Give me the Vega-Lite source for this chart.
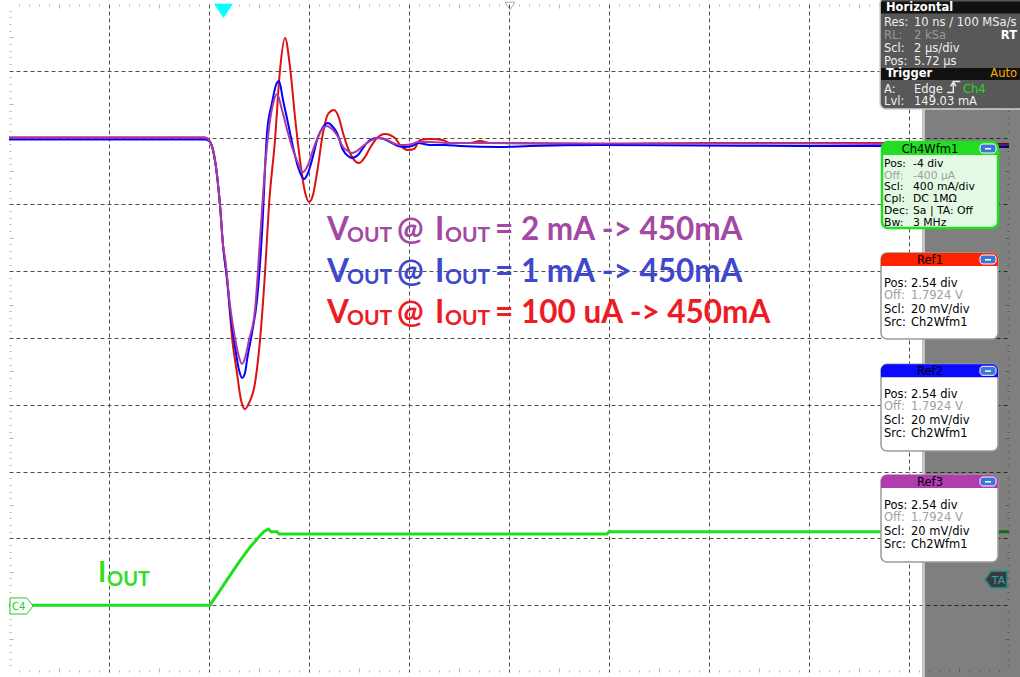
{
  "$schema": "https://vega.github.io/schema/vega-lite/v6.json",
  "width": 1000,
  "height": 668,
  "autosize": {"type": "none"},
  "padding": {"left": 9, "top": 4, "right": 11, "bottom": 5},
  "background": "white",
  "config": {
    "view": {"stroke": null},
    "axis": {"labels": false, "ticks": false, "domain": false, "grid": false},
    "style": {
      "big": {"font": "Lato", "fontWeight": "bold", "fontSize": 31.5, "align": "left", "baseline": "alphabetic"},
      "small": {"font": "Lato", "fontWeight": "bold", "fontSize": 21, "align": "left", "baseline": "alphabetic"},
      "info": {"font": "DejaVu Sans", "fontSize": 11.5, "align": "left", "baseline": "middle"},
      "tight": {"font": "DejaVu Sans", "fontSize": 10.8, "align": "left", "baseline": "middle"},
      "infohead": {"font": "DejaVu Sans", "fontSize": 11.5, "fontWeight": "bold", "align": "left", "baseline": "middle"}
    }
  },
  "datasets": {
    "vout": [
      {"series": "100 uA", "t": 0, "mv": 0},
      {"series": "100 uA", "t": 3.92, "mv": 0},
      {"series": "100 uA", "t": 4.0, "mv": -0.72},
      {"series": "100 uA", "t": 4.08, "mv": -3.71},
      {"series": "100 uA", "t": 4.16, "mv": -11.2},
      {"series": "100 uA", "t": 4.22, "mv": -20.18},
      {"series": "100 uA", "t": 4.28, "mv": -32.16},
      {"series": "100 uA", "t": 4.36, "mv": -41.74},
      {"series": "100 uA", "t": 4.46, "mv": -59.71},
      {"series": "100 uA", "t": 4.56, "mv": -70.48},
      {"series": "100 uA", "t": 4.64, "mv": -78.57},
      {"series": "100 uA", "t": 4.72, "mv": -81.27},
      {"series": "100 uA", "t": 4.8, "mv": -79.47},
      {"series": "100 uA", "t": 4.92, "mv": -73.48},
      {"series": "100 uA", "t": 5.02, "mv": -60.61},
      {"series": "100 uA", "t": 5.12, "mv": -40.54},
      {"series": "100 uA", "t": 5.2, "mv": -20.18},
      {"series": "100 uA", "t": 5.32, "mv": -0.72},
      {"series": "100 uA", "t": 5.42, "mv": 20.24},
      {"series": "100 uA", "t": 5.52, "mv": 29.82},
      {"series": "100 uA", "t": 5.62, "mv": 21.14},
      {"series": "100 uA", "t": 5.72, "mv": 6.17},
      {"series": "100 uA", "t": 5.82, "mv": -6.71},
      {"series": "100 uA", "t": 5.92, "mv": -16.29},
      {"series": "100 uA", "t": 6.0, "mv": -19.28},
      {"series": "100 uA", "t": 6.08, "mv": -17.19},
      {"series": "100 uA", "t": 6.16, "mv": -10.6},
      {"series": "100 uA", "t": 6.28, "mv": 1.38},
      {"series": "100 uA", "t": 6.38, "mv": 7.07},
      {"series": "100 uA", "t": 6.5, "mv": 8.26},
      {"series": "100 uA", "t": 6.6, "mv": 5.87},
      {"series": "100 uA", "t": 6.68, "mv": 1.38},
      {"series": "100 uA", "t": 6.82, "mv": -4.61},
      {"series": "100 uA", "t": 6.92, "mv": -7.01},
      {"series": "100 uA", "t": 7.0, "mv": -7.6},
      {"series": "100 uA", "t": 7.12, "mv": -5.81},
      {"series": "100 uA", "t": 7.22, "mv": -3.11},
      {"series": "100 uA", "t": 7.36, "mv": -0.12},
      {"series": "100 uA", "t": 7.52, "mv": 1.08},
      {"series": "100 uA", "t": 7.72, "mv": -0.12},
      {"series": "100 uA", "t": 7.82, "mv": -2.22},
      {"series": "100 uA", "t": 7.98, "mv": -3.71},
      {"series": "100 uA", "t": 8.1, "mv": -3.41},
      {"series": "100 uA", "t": 8.22, "mv": -0.72},
      {"series": "100 uA", "t": 8.42, "mv": -0.42},
      {"series": "100 uA", "t": 8.68, "mv": -0.72},
      {"series": "100 uA", "t": 8.82, "mv": -1.62},
      {"series": "100 uA", "t": 9.22, "mv": -1.62},
      {"series": "100 uA", "t": 9.42, "mv": -1.02},
      {"series": "100 uA", "t": 9.62, "mv": -1.62},
      {"series": "100 uA", "t": 11.82, "mv": -1.92},
      {"series": "100 uA", "t": 13.82, "mv": -1.62},
      {"series": "100 uA", "t": 17.42, "mv": -1.62},
      {"series": "100 uA", "t": 20, "mv": -1.92},
      {"series": "1 mA", "t": 0, "mv": -0.57},
      {"series": "1 mA", "t": 3.92, "mv": -0.57},
      {"series": "1 mA", "t": 4.0, "mv": -1.02},
      {"series": "1 mA", "t": 4.08, "mv": -3.71},
      {"series": "1 mA", "t": 4.16, "mv": -11.2},
      {"series": "1 mA", "t": 4.22, "mv": -20.18},
      {"series": "1 mA", "t": 4.28, "mv": -32.16},
      {"series": "1 mA", "t": 4.36, "mv": -42.5},
      {"series": "1 mA", "t": 4.42, "mv": -51.62},
      {"series": "1 mA", "t": 4.52, "mv": -62.7},
      {"series": "1 mA", "t": 4.6, "mv": -69.58},
      {"series": "1 mA", "t": 4.66, "mv": -71.98},
      {"series": "1 mA", "t": 4.72, "mv": -70.48},
      {"series": "1 mA", "t": 4.76, "mv": -66.6},
      {"series": "1 mA", "t": 4.86, "mv": -58.51},
      {"series": "1 mA", "t": 4.96, "mv": -48.63},
      {"series": "1 mA", "t": 5.06, "mv": -28.56},
      {"series": "1 mA", "t": 5.16, "mv": 1.38},
      {"series": "1 mA", "t": 5.26, "mv": 10.36},
      {"series": "1 mA", "t": 5.34, "mv": 15.75},
      {"series": "1 mA", "t": 5.4, "mv": 16.95},
      {"series": "1 mA", "t": 5.48, "mv": 11.26},
      {"series": "1 mA", "t": 5.58, "mv": 4.37},
      {"series": "1 mA", "t": 5.68, "mv": -2.81},
      {"series": "1 mA", "t": 5.78, "mv": -8.8},
      {"series": "1 mA", "t": 5.9, "mv": -12.4},
      {"series": "1 mA", "t": 5.98, "mv": -10.6},
      {"series": "1 mA", "t": 6.06, "mv": -6.71},
      {"series": "1 mA", "t": 6.18, "mv": 0.18},
      {"series": "1 mA", "t": 6.28, "mv": 3.17},
      {"series": "1 mA", "t": 6.38, "mv": 4.37},
      {"series": "1 mA", "t": 6.48, "mv": 3.17},
      {"series": "1 mA", "t": 6.56, "mv": 1.38},
      {"series": "1 mA", "t": 6.68, "mv": -3.71},
      {"series": "1 mA", "t": 6.78, "mv": -5.51},
      {"series": "1 mA", "t": 6.86, "mv": -6.11},
      {"series": "1 mA", "t": 6.98, "mv": -5.21},
      {"series": "1 mA", "t": 7.08, "mv": -3.11},
      {"series": "1 mA", "t": 7.22, "mv": -0.72},
      {"series": "1 mA", "t": 7.36, "mv": -0.12},
      {"series": "1 mA", "t": 7.5, "mv": -0.42},
      {"series": "1 mA", "t": 7.62, "mv": -1.32},
      {"series": "1 mA", "t": 7.78, "mv": -2.51},
      {"series": "1 mA", "t": 7.92, "mv": -2.81},
      {"series": "1 mA", "t": 8.06, "mv": -2.51},
      {"series": "1 mA", "t": 8.18, "mv": -1.62},
      {"series": "1 mA", "t": 8.42, "mv": -2.22},
      {"series": "1 mA", "t": 8.72, "mv": -2.22},
      {"series": "1 mA", "t": 9.02, "mv": -2.51},
      {"series": "1 mA", "t": 9.82, "mv": -2.81},
      {"series": "1 mA", "t": 10.42, "mv": -2.51},
      {"series": "1 mA", "t": 11.82, "mv": -2.22},
      {"series": "1 mA", "t": 13.82, "mv": -2.37},
      {"series": "1 mA", "t": 15.82, "mv": -2.51},
      {"series": "1 mA", "t": 17.22, "mv": -2.51},
      {"series": "1 mA", "t": 20, "mv": -2.81},
      {"series": "2 mA", "t": 0, "mv": 0},
      {"series": "2 mA", "t": 3.92, "mv": 0},
      {"series": "2 mA", "t": 4.0, "mv": -0.72},
      {"series": "2 mA", "t": 4.08, "mv": -3.71},
      {"series": "2 mA", "t": 4.16, "mv": -11.2},
      {"series": "2 mA", "t": 4.22, "mv": -20.18},
      {"series": "2 mA", "t": 4.28, "mv": -32.16},
      {"series": "2 mA", "t": 4.32, "mv": -36.05},
      {"series": "2 mA", "t": 4.42, "mv": -50.12},
      {"series": "2 mA", "t": 4.52, "mv": -60.01},
      {"series": "2 mA", "t": 4.6, "mv": -65.7},
      {"series": "2 mA", "t": 4.66, "mv": -67.8},
      {"series": "2 mA", "t": 4.72, "mv": -66.0},
      {"series": "2 mA", "t": 4.8, "mv": -60.61},
      {"series": "2 mA", "t": 4.92, "mv": -51.62},
      {"series": "2 mA", "t": 5.02, "mv": -30.66},
      {"series": "2 mA", "t": 5.12, "mv": -9.1},
      {"series": "2 mA", "t": 5.2, "mv": 2.87},
      {"series": "2 mA", "t": 5.28, "mv": 10.06},
      {"series": "2 mA", "t": 5.36, "mv": 13.05},
      {"series": "2 mA", "t": 5.46, "mv": 8.26},
      {"series": "2 mA", "t": 5.58, "mv": 1.38},
      {"series": "2 mA", "t": 5.68, "mv": -3.71},
      {"series": "2 mA", "t": 5.78, "mv": -7.6},
      {"series": "2 mA", "t": 5.88, "mv": -10.3},
      {"series": "2 mA", "t": 5.98, "mv": -8.2},
      {"series": "2 mA", "t": 6.08, "mv": -3.71},
      {"series": "2 mA", "t": 6.18, "mv": 0.18},
      {"series": "2 mA", "t": 6.26, "mv": 2.57},
      {"series": "2 mA", "t": 6.36, "mv": 3.47},
      {"series": "2 mA", "t": 6.46, "mv": 2.57},
      {"series": "2 mA", "t": 6.56, "mv": 0.78},
      {"series": "2 mA", "t": 6.68, "mv": -2.81},
      {"series": "2 mA", "t": 6.78, "mv": -4.01},
      {"series": "2 mA", "t": 6.86, "mv": -4.61},
      {"series": "2 mA", "t": 6.96, "mv": -4.01},
      {"series": "2 mA", "t": 7.08, "mv": -2.51},
      {"series": "2 mA", "t": 7.22, "mv": -1.02},
      {"series": "2 mA", "t": 7.38, "mv": -0.12},
      {"series": "2 mA", "t": 7.52, "mv": -0.42},
      {"series": "2 mA", "t": 7.68, "mv": -1.62},
      {"series": "2 mA", "t": 7.8, "mv": -2.22},
      {"series": "2 mA", "t": 7.92, "mv": -2.22},
      {"series": "2 mA", "t": 8.06, "mv": -1.92},
      {"series": "2 mA", "t": 8.18, "mv": -1.32},
      {"series": "2 mA", "t": 8.42, "mv": -1.32},
      {"series": "2 mA", "t": 8.82, "mv": -1.62},
      {"series": "2 mA", "t": 9.82, "mv": -1.62},
      {"series": "2 mA", "t": 11.82, "mv": -1.77},
      {"series": "2 mA", "t": 13.82, "mv": -1.77},
      {"series": "2 mA", "t": 15.82, "mv": -1.77},
      {"series": "2 mA", "t": 20, "mv": -2.22}
    ],
    "iout": [
      {"t": 0, "ma": 0},
      {"t": 4.02, "ma": 0},
      {"t": 4.06, "ma": 18},
      {"t": 4.2, "ma": 80},
      {"t": 4.4, "ma": 170},
      {"t": 4.6, "ma": 258},
      {"t": 4.8, "ma": 340},
      {"t": 5.0, "ma": 410},
      {"t": 5.1, "ma": 442},
      {"t": 5.19, "ma": 456},
      {"t": 5.24, "ma": 440},
      {"t": 5.36, "ma": 440},
      {"t": 5.4, "ma": 426},
      {"t": 11.96, "ma": 426},
      {"t": 12.0, "ma": 440},
      {"t": 20, "ma": 440}
    ]
  },
  "resolve": {"scale": {"y": "independent"}, "axis": {"x": "independent", "y": "independent"}},
  "layer": [
    {
      "data": {"name": "vout"},
      "encoding": {
        "x": {
          "field": "t", "type": "quantitative", "scale": {"domain": [0, 20]},
          "axis": {
            "orient": "bottom", "title": null, "labels": false, "domain": false,
            "tickCount": 100, "ticks": true, "tickColor": "#b4b4b4", "tickWidth": 1,
            "tickSize": {"condition": {"test": "abs(datum.value - round(datum.value)) < 0.001", "value": -4}, "value": -2},
            "tickOpacity": {"condition": {"test": "abs(datum.value / 2 - round(datum.value / 2)) < 0.001", "value": 0}, "value": 1},
            "grid": true, "gridColor": "#505050", "gridDash": [4, 3], "gridWidth": 1,
            "gridOpacity": {"condition": {"test": "abs(datum.value / 2 - round(datum.value / 2)) < 0.001 && datum.value > 0.5 && datum.value < 19.5", "value": 1}, "value": 0}
          }
        },
        "y": {
          "field": "mv", "type": "quantitative", "scale": {"domain": [-160, 40]},
          "axis": {
            "orient": "left", "title": null, "labels": false, "domain": false,
            "tickCount": 100, "ticks": true, "tickColor": "#b4b4b4", "tickWidth": 1,
            "tickSize": {"condition": {"test": "abs(datum.value / 10 - round(datum.value / 10)) < 0.001", "value": -4}, "value": -2},
            "tickOpacity": {"condition": {"test": "abs(datum.value / 20 - round(datum.value / 20)) < 0.001", "value": 0}, "value": 1},
            "grid": true, "gridColor": "#505050", "gridDash": [4, 3], "gridWidth": 1,
            "gridOpacity": {"condition": {"test": "abs(datum.value / 20 - round(datum.value / 20)) < 0.001 && datum.value > -159 && datum.value < 39", "value": 1}, "value": 0}
          }
        }
      },
      "layer": [
        {
          "transform": [{"filter": "datum.series === '100 uA'"}],
          "mark": {"type": "line", "color": "#dd1010", "strokeWidth": 2, "interpolate": "monotone"}
        },
        {
          "transform": [{"filter": "datum.series === '1 mA'"}],
          "mark": {"type": "line", "color": "#0000ff", "strokeWidth": 2, "interpolate": "monotone"}
        },
        {
          "transform": [{"filter": "datum.series === '2 mA'"}],
          "mark": {"type": "line", "color": "#a83aa8", "strokeWidth": 2, "interpolate": "monotone"}
        }
      ]
    },
    {
      "data": {"values": [{}]},
      "mark": {"type": "point", "opacity": 0},
      "encoding": {
        "x": {
          "datum": 10, "type": "quantitative",
          "axis": {
            "orient": "top", "title": null, "labels": false, "domain": false, "grid": false,
            "tickCount": 100, "ticks": true, "tickColor": "#b4b4b4", "tickWidth": 1,
            "tickSize": {"condition": {"test": "abs(datum.value - round(datum.value)) < 0.001", "value": -4}, "value": -2},
            "tickOpacity": {"condition": {"test": "abs(datum.value / 2 - round(datum.value / 2)) < 0.001", "value": 0}, "value": 1}
          }
        },
        "y": {
          "datum": 0, "type": "quantitative", "scale": {"domain": [-160, 40]},
          "axis": {
            "orient": "right", "title": null, "labels": false, "domain": false, "grid": false,
            "tickCount": 100, "ticks": true, "tickColor": "#b4b4b4", "tickWidth": 1,
            "tickSize": {"condition": {"test": "abs(datum.value / 10 - round(datum.value / 10)) < 0.001", "value": -4}, "value": -2},
            "tickOpacity": {"condition": {"test": "abs(datum.value / 20 - round(datum.value / 20)) < 0.001", "value": 0}, "value": 1}
          }
        }
      }
    },
    {
      "data": {"name": "iout"},
      "mark": {"type": "line", "color": "#1ee01e", "strokeWidth": 3},
      "encoding": {
        "x": {"field": "t", "type": "quantitative", "axis": null},
        "y": {"field": "ma", "type": "quantitative", "scale": {"domain": [-400, 3600]}, "axis": null}
      }
    },
    {
      "data": {"values": [{}]},
      "layer": [
        {
          "mark": {"type": "rect", "color": "#000000", "opacity": 0.5},
          "encoding": {"x": {"datum": 18.26}, "x2": {"datum": 20.4}, "y": {"datum": 42, "scale": {"domain": [-160, 40]}}, "y2": {"datum": -163}}
        },
        {
          "mark": {"type": "rule", "color": "#c4c4c4", "strokeWidth": 3},
          "encoding": {"x": {"datum": 18.29}, "y": {"datum": 42}, "y2": {"datum": -163}}
        },
        {
          "encoding": {"x": {"datum": 1.78}, "y": {"datum": -133.05}, "color": {"value": "#33dd22"}},
          "layer": [
            {"mark": {"type": "text", "style": "big", "fontSize": 28, "text": "I"}},
            {"mark": {"type": "text", "style": "small", "fontSize": 20, "text": "OUT", "dx": 9, "dy": 4}}
          ]
        },
        {
          "encoding": {"x": {"datum": 6.36}, "y": {"datum": -30.66}, "color": {"value": "#a349a4"}},
          "layer": [
            {"mark": {"type": "text", "style": "big", "text": "V"}},
            {"mark": {"type": "text", "style": "small", "text": "OUT", "dx": 20, "dy": 2}},
            {"mark": {"type": "text", "style": "big", "text": "@", "dx": 70}},
            {"mark": {"type": "text", "style": "big", "text": "I", "dx": 108}},
            {"mark": {"type": "text", "style": "small", "text": "OUT", "dx": 118, "dy": 2}},
            {"mark": {"type": "text", "style": "big", "text": "= 2 mA -> 450mA", "dx": 168}}
          ]
        },
        {
          "encoding": {"x": {"datum": 6.36}, "y": {"datum": -43.14}, "color": {"value": "#3f48cc"}},
          "layer": [
            {"mark": {"type": "text", "style": "big", "text": "V"}},
            {"mark": {"type": "text", "style": "small", "text": "OUT", "dx": 20, "dy": 2}},
            {"mark": {"type": "text", "style": "big", "text": "@", "dx": 70}},
            {"mark": {"type": "text", "style": "big", "text": "I", "dx": 108}},
            {"mark": {"type": "text", "style": "small", "text": "OUT", "dx": 118, "dy": 2}},
            {"mark": {"type": "text", "style": "big", "text": "= 1 mA -> 450mA", "dx": 168}}
          ]
        },
        {
          "encoding": {"x": {"datum": 6.36}, "y": {"datum": -55.6}, "color": {"value": "#ed1c24"}},
          "layer": [
            {"mark": {"type": "text", "style": "big", "text": "V"}},
            {"mark": {"type": "text", "style": "small", "text": "OUT", "dx": 20, "dy": 2}},
            {"mark": {"type": "text", "style": "big", "text": "@", "dx": 70}},
            {"mark": {"type": "text", "style": "big", "text": "I", "dx": 108}},
            {"mark": {"type": "text", "style": "small", "text": "OUT", "dx": 118, "dy": 2}},
            {"mark": {"type": "text", "style": "big", "text": "= 100 uA -> 450mA", "dx": 168}}
          ]
        },
        {
          "mark": {"type": "point", "shape": "M-1,-0.75L1,-0.75L0,0.75Z", "size": 361, "filled": true, "color": "#00ffff", "opacity": 1},
          "encoding": {"x": {"datum": 4.29}, "y": {"datum": 37.91}}
        },
        {
          "mark": {"type": "point", "shape": "M-1,-0.75L1,-0.75L0,0.75Z", "size": 100, "filled": false, "color": "#a8a8a8", "strokeWidth": 1, "opacity": 1},
          "encoding": {"x": {"datum": 10.02}, "y": {"datum": 39.4}}
        },
        {
          "mark": {"type": "point", "shape": "M-1,-0.7L0.45,-0.7L1,0L0.45,0.7L-1,0.7Z", "size": 529, "fill": "#ffffff", "stroke": "#22cc22", "strokeWidth": 1, "opacity": 1},
          "encoding": {"x": {"datum": 0.25}, "y": {"datum": -140.24}}
        },
        {
          "mark": {"type": "text", "style": "info", "fontSize": 10, "text": "C4", "color": "#22cc22"},
          "encoding": {"x": {"datum": 0.06}, "y": {"datum": -140.46}}
        },
        {
          "mark": {"type": "point", "shape": "M-1,0L-0.45,-0.75L1,-0.75L1,0.75L-0.45,0.75Z", "size": 484, "fill": "#3a3a3a", "stroke": "#1c8c8c", "strokeWidth": 1.5, "opacity": 1},
          "encoding": {"x": {"datum": 19.74}, "y": {"datum": -132.3}}
        },
        {
          "mark": {"type": "text", "style": "info", "align": "center", "fontSize": 11, "text": "TA", "color": "#2aa5a5"},
          "encoding": {"x": {"datum": 19.79}, "y": {"datum": -132.68}}
        },
        {
          "mark": {"type": "rect", "fill": "#585858", "stroke": "#d0d0d0", "strokeWidth": 1.5, "cornerRadius": 6},
          "encoding": {"x": {"datum": 17.42}, "x2": {"datum": 20.4}, "y": {"datum": 42}, "y2": {"datum": 8.56}}
        },
        {
          "mark": {"type": "rect", "fill": "#111111"},
          "encoding": {"x": {"datum": 17.44}, "x2": {"datum": 20.4}, "y": {"datum": 40.75}, "y2": {"datum": 37.16}}
        },
        {
          "mark": {"type": "rect", "fill": "#111111"},
          "encoding": {"x": {"datum": 17.44}, "x2": {"datum": 20.4}, "y": {"datum": 20.84}, "y2": {"datum": 17.25}}
        },
        {"mark": {"type": "text", "style": "infohead", "text": "Horizontal", "color": "#ffffff"}, "encoding": {"x": {"datum": 17.54}, "y": {"datum": 38.88}}},
        {"mark": {"type": "text", "style": "info", "text": "Res:", "color": "#f0f0f0"}, "encoding": {"x": {"datum": 17.5}, "y": {"datum": 34.24}}},
        {"mark": {"type": "text", "style": "info", "text": "10 ns / 100 MSa/s", "color": "#f0f0f0"}, "encoding": {"x": {"datum": 18.1}, "y": {"datum": 34.24}}},
        {"mark": {"type": "text", "style": "info", "text": "RL:", "color": "#9a9a9a"}, "encoding": {"x": {"datum": 17.5}, "y": {"datum": 30.49}}},
        {"mark": {"type": "text", "style": "info", "text": "2 kSa", "color": "#9a9a9a"}, "encoding": {"x": {"datum": 18.1}, "y": {"datum": 30.49}}},
        {"mark": {"type": "text", "style": "infohead", "align": "right", "text": "RT", "color": "#ffffff"}, "encoding": {"x": {"datum": 20.16}, "y": {"datum": 30.49}}},
        {"mark": {"type": "text", "style": "info", "text": "Scl:", "color": "#f0f0f0"}, "encoding": {"x": {"datum": 17.5}, "y": {"datum": 26.45}}},
        {"mark": {"type": "text", "style": "info", "text": "2 µs/div", "color": "#f0f0f0"}, "encoding": {"x": {"datum": 18.1}, "y": {"datum": 26.45}}},
        {"mark": {"type": "text", "style": "info", "text": "Pos:", "color": "#f0f0f0"}, "encoding": {"x": {"datum": 17.5}, "y": {"datum": 22.71}}},
        {"mark": {"type": "text", "style": "info", "text": "5.72 µs", "color": "#f0f0f0"}, "encoding": {"x": {"datum": 18.1}, "y": {"datum": 22.71}}},
        {"mark": {"type": "text", "style": "infohead", "text": "Trigger", "color": "#ffffff"}, "encoding": {"x": {"datum": 17.54}, "y": {"datum": 18.97}}},
        {"mark": {"type": "text", "style": "info", "align": "right", "text": "Auto", "color": "#ffaa00"}, "encoding": {"x": {"datum": 20.16}, "y": {"datum": 18.97}}},
        {"mark": {"type": "text", "style": "info", "text": "A:", "color": "#f0f0f0"}, "encoding": {"x": {"datum": 17.5}, "y": {"datum": 14.33}}},
        {"mark": {"type": "text", "style": "info", "text": "Edge", "color": "#f0f0f0"}, "encoding": {"x": {"datum": 18.1}, "y": {"datum": 14.33}}},
        {
          "mark": {"type": "point", "shape": "M-1,0.8L-0.1,0.8L-0.1,-0.8L0.9,-0.8M-0.5,-0.1L-0.1,-0.7L0.3,-0.1", "size": 196, "filled": false, "color": "#e8e8e8", "strokeWidth": 1.5, "opacity": 1},
          "encoding": {"x": {"datum": 18.9}, "y": {"datum": 15.15}}
        },
        {"mark": {"type": "text", "style": "info", "text": "Ch4", "color": "#22dd22"}, "encoding": {"x": {"datum": 19.08}, "y": {"datum": 14.33}}},
        {"mark": {"type": "text", "style": "info", "text": "Lvl:", "color": "#f0f0f0"}, "encoding": {"x": {"datum": 17.5}, "y": {"datum": 10.58}}},
        {"mark": {"type": "text", "style": "info", "text": "149.03 mA", "color": "#f0f0f0"}, "encoding": {"x": {"datum": 18.1}, "y": {"datum": 10.58}}},
        {
          "mark": {"type": "rect", "fill": "#e3f9e3", "stroke": "#22dd22", "strokeWidth": 2.5, "cornerRadius": 6},
          "encoding": {"x": {"datum": 17.46}, "x2": {"datum": 19.78}, "y": {"datum": -1.32}, "y2": {"datum": -27.07}}
        },
        {
          "mark": {"type": "rect", "fill": "#22dd22", "cornerRadiusTopLeft": 6, "cornerRadiusTopRight": 6},
          "encoding": {"x": {"datum": 17.46}, "x2": {"datum": 19.78}, "y": {"datum": -1.32}, "y2": {"datum": -5.21}}
        },
        {"mark": {"type": "text", "style": "info", "align": "center", "text": "Ch4Wfm1", "color": "#000000"}, "encoding": {"x": {"datum": 18.42}, "y": {"datum": -3.64}}},
        {
          "mark": {"type": "rect", "fill": "#3c74d8", "stroke": "#ffffff", "strokeWidth": 1, "cornerRadius": 3},
          "encoding": {"x": {"datum": 19.42}, "x2": {"datum": 19.74}, "y": {"datum": -1.92}, "y2": {"datum": -4.61}}
        },
        {
          "mark": {"type": "rect", "fill": "#ffffff"},
          "encoding": {"x": {"datum": 19.52}, "x2": {"datum": 19.64}, "y": {"datum": -3.11}, "y2": {"datum": -3.56}}
        },
        {"mark": {"type": "text", "style": "tight", "text": "Pos:", "color": "#000000"}, "encoding": {"x": {"datum": 17.5}, "y": {"datum": -7.83}}},
        {"mark": {"type": "text", "style": "tight", "text": "-4 div", "color": "#000000"}, "encoding": {"x": {"datum": 18.08}, "y": {"datum": -7.83}}},
        {"mark": {"type": "text", "style": "tight", "text": "Off:", "color": "#a0a0a0"}, "encoding": {"x": {"datum": 17.5}, "y": {"datum": -11.42}}},
        {"mark": {"type": "text", "style": "tight", "text": "-400 µA", "color": "#a0a0a0"}, "encoding": {"x": {"datum": 18.08}, "y": {"datum": -11.42}}},
        {"mark": {"type": "text", "style": "tight", "text": "Scl:", "color": "#000000"}, "encoding": {"x": {"datum": 17.5}, "y": {"datum": -14.87}}},
        {"mark": {"type": "text", "style": "tight", "text": "400 mA/div", "color": "#000000"}, "encoding": {"x": {"datum": 18.08}, "y": {"datum": -14.87}}},
        {"mark": {"type": "text", "style": "tight", "text": "Cpl:", "color": "#000000"}, "encoding": {"x": {"datum": 17.5}, "y": {"datum": -18.46}}},
        {"mark": {"type": "text", "style": "tight", "text": "DC 1MΩ", "color": "#000000"}, "encoding": {"x": {"datum": 18.08}, "y": {"datum": -18.46}}},
        {"mark": {"type": "text", "style": "tight", "text": "Dec:", "color": "#000000"}, "encoding": {"x": {"datum": 17.5}, "y": {"datum": -22.05}}},
        {"mark": {"type": "text", "style": "tight", "text": "Sa | TA: Off", "color": "#000000"}, "encoding": {"x": {"datum": 18.08}, "y": {"datum": -22.05}}},
        {"mark": {"type": "text", "style": "tight", "text": "Bw:", "color": "#000000"}, "encoding": {"x": {"datum": 17.5}, "y": {"datum": -25.64}}},
        {"mark": {"type": "text", "style": "tight", "text": "3 MHz", "color": "#000000"}, "encoding": {"x": {"datum": 18.08}, "y": {"datum": -25.64}}},
        {
          "mark": {"type": "rect", "fill": "#ffffff", "stroke": "#9a9a9a", "strokeWidth": 1.5, "cornerRadius": 6},
          "encoding": {"x": {"datum": 17.44}, "x2": {"datum": 19.78}, "y": {"datum": -34.55}, "y2": {"datum": -60.3}}
        },
        {
          "mark": {"type": "rect", "fill": "#ff2200", "cornerRadiusTopLeft": 6, "cornerRadiusTopRight": 6},
          "encoding": {"x": {"datum": 17.44}, "x2": {"datum": 19.78}, "y": {"datum": -34.55}, "y2": {"datum": -38.44}}
        },
        {"mark": {"type": "text", "style": "info", "align": "center", "text": "Ref1", "color": "#000000"}, "encoding": {"x": {"datum": 18.42}, "y": {"datum": -36.87}}},
        {
          "mark": {"type": "rect", "fill": "#3c74d8", "stroke": "#ffffff", "strokeWidth": 1, "cornerRadius": 3},
          "encoding": {"x": {"datum": 19.42}, "x2": {"datum": 19.74}, "y": {"datum": -35.15}, "y2": {"datum": -37.84}}
        },
        {
          "mark": {"type": "rect", "fill": "#ffffff"},
          "encoding": {"x": {"datum": 19.52}, "x2": {"datum": 19.64}, "y": {"datum": -36.35}, "y2": {"datum": -36.8}}
        },
        {"mark": {"type": "text", "style": "info", "text": "Pos:", "color": "#000000"}, "encoding": {"x": {"datum": 17.5}, "y": {"datum": -43.76}}},
        {"mark": {"type": "text", "style": "info", "text": "2.54 div", "color": "#000000"}, "encoding": {"x": {"datum": 18.04}, "y": {"datum": -43.76}}},
        {"mark": {"type": "text", "style": "info", "text": "Off:", "color": "#a0a0a0"}, "encoding": {"x": {"datum": 17.5}, "y": {"datum": -47.5}}},
        {"mark": {"type": "text", "style": "info", "text": "1.7924 V", "color": "#a0a0a0"}, "encoding": {"x": {"datum": 18.04}, "y": {"datum": -47.5}}},
        {"mark": {"type": "text", "style": "info", "text": "Scl:", "color": "#000000"}, "encoding": {"x": {"datum": 17.5}, "y": {"datum": -51.54}}},
        {"mark": {"type": "text", "style": "info", "text": "20 mV/div", "color": "#000000"}, "encoding": {"x": {"datum": 18.04}, "y": {"datum": -51.54}}},
        {"mark": {"type": "text", "style": "info", "text": "Src:", "color": "#000000"}, "encoding": {"x": {"datum": 17.5}, "y": {"datum": -55.43}}},
        {"mark": {"type": "text", "style": "info", "text": "Ch2Wfm1", "color": "#000000"}, "encoding": {"x": {"datum": 18.04}, "y": {"datum": -55.43}}},
        {
          "mark": {"type": "rect", "fill": "#ffffff", "stroke": "#9a9a9a", "strokeWidth": 1.5, "cornerRadius": 6},
          "encoding": {"x": {"datum": 17.44}, "x2": {"datum": 19.78}, "y": {"datum": -67.88}, "y2": {"datum": -93.86}}
        },
        {
          "mark": {"type": "rect", "fill": "#0a0aff", "cornerRadiusTopLeft": 6, "cornerRadiusTopRight": 6},
          "encoding": {"x": {"datum": 17.44}, "x2": {"datum": 19.78}, "y": {"datum": -67.88}, "y2": {"datum": -71.77}}
        },
        {"mark": {"type": "text", "style": "info", "align": "center", "text": "Ref2", "color": "#000000"}, "encoding": {"x": {"datum": 18.42}, "y": {"datum": -70.1}}},
        {
          "mark": {"type": "rect", "fill": "#3c74d8", "stroke": "#ffffff", "strokeWidth": 1, "cornerRadius": 3},
          "encoding": {"x": {"datum": 19.42}, "x2": {"datum": 19.74}, "y": {"datum": -68.48}, "y2": {"datum": -71.17}}
        },
        {
          "mark": {"type": "rect", "fill": "#ffffff"},
          "encoding": {"x": {"datum": 19.52}, "x2": {"datum": 19.64}, "y": {"datum": -69.68}, "y2": {"datum": -70.13}}
        },
        {"mark": {"type": "text", "style": "info", "text": "Pos:", "color": "#000000"}, "encoding": {"x": {"datum": 17.5}, "y": {"datum": -76.99}}},
        {"mark": {"type": "text", "style": "info", "text": "2.54 div", "color": "#000000"}, "encoding": {"x": {"datum": 18.04}, "y": {"datum": -76.99}}},
        {"mark": {"type": "text", "style": "info", "text": "Off:", "color": "#a0a0a0"}, "encoding": {"x": {"datum": 17.5}, "y": {"datum": -80.73}}},
        {"mark": {"type": "text", "style": "info", "text": "1.7924 V", "color": "#a0a0a0"}, "encoding": {"x": {"datum": 18.04}, "y": {"datum": -80.73}}},
        {"mark": {"type": "text", "style": "info", "text": "Scl:", "color": "#000000"}, "encoding": {"x": {"datum": 17.5}, "y": {"datum": -84.77}}},
        {"mark": {"type": "text", "style": "info", "text": "20 mV/div", "color": "#000000"}, "encoding": {"x": {"datum": 18.04}, "y": {"datum": -84.77}}},
        {"mark": {"type": "text", "style": "info", "text": "Src:", "color": "#000000"}, "encoding": {"x": {"datum": 17.5}, "y": {"datum": -88.66}}},
        {"mark": {"type": "text", "style": "info", "text": "Ch2Wfm1", "color": "#000000"}, "encoding": {"x": {"datum": 18.04}, "y": {"datum": -88.66}}},
        {
          "mark": {"type": "rect", "fill": "#ffffff", "stroke": "#9a9a9a", "strokeWidth": 1.5, "cornerRadius": 6},
          "encoding": {"x": {"datum": 17.44}, "x2": {"datum": 19.78}, "y": {"datum": -101.02}, "y2": {"datum": -127.06}}
        },
        {
          "mark": {"type": "rect", "fill": "#b03cb0", "cornerRadiusTopLeft": 6, "cornerRadiusTopRight": 6},
          "encoding": {"x": {"datum": 17.44}, "x2": {"datum": 19.78}, "y": {"datum": -101.02}, "y2": {"datum": -104.91}}
        },
        {"mark": {"type": "text", "style": "info", "align": "center", "text": "Ref3", "color": "#000000"}, "encoding": {"x": {"datum": 18.42}, "y": {"datum": -103.34}}},
        {
          "mark": {"type": "rect", "fill": "#3c74d8", "stroke": "#ffffff", "strokeWidth": 1, "cornerRadius": 3},
          "encoding": {"x": {"datum": 19.42}, "x2": {"datum": 19.74}, "y": {"datum": -101.62}, "y2": {"datum": -104.31}}
        },
        {
          "mark": {"type": "rect", "fill": "#ffffff"},
          "encoding": {"x": {"datum": 19.52}, "x2": {"datum": 19.64}, "y": {"datum": -102.82}, "y2": {"datum": -103.27}}
        },
        {"mark": {"type": "text", "style": "info", "text": "Pos:", "color": "#000000"}, "encoding": {"x": {"datum": 17.5}, "y": {"datum": -110.23}}},
        {"mark": {"type": "text", "style": "info", "text": "2.54 div", "color": "#000000"}, "encoding": {"x": {"datum": 18.04}, "y": {"datum": -110.23}}},
        {"mark": {"type": "text", "style": "info", "text": "Off:", "color": "#a0a0a0"}, "encoding": {"x": {"datum": 17.5}, "y": {"datum": -113.97}}},
        {"mark": {"type": "text", "style": "info", "text": "1.7924 V", "color": "#a0a0a0"}, "encoding": {"x": {"datum": 18.04}, "y": {"datum": -113.97}}},
        {"mark": {"type": "text", "style": "info", "text": "Scl:", "color": "#000000"}, "encoding": {"x": {"datum": 17.5}, "y": {"datum": -118.01}}},
        {"mark": {"type": "text", "style": "info", "text": "20 mV/div", "color": "#000000"}, "encoding": {"x": {"datum": 18.04}, "y": {"datum": -118.01}}},
        {"mark": {"type": "text", "style": "info", "text": "Src:", "color": "#000000"}, "encoding": {"x": {"datum": 17.5}, "y": {"datum": -121.9}}},
        {"mark": {"type": "text", "style": "info", "text": "Ch2Wfm1", "color": "#000000"}, "encoding": {"x": {"datum": 18.04}, "y": {"datum": -121.9}}}
      ]
    }
  ]
}
